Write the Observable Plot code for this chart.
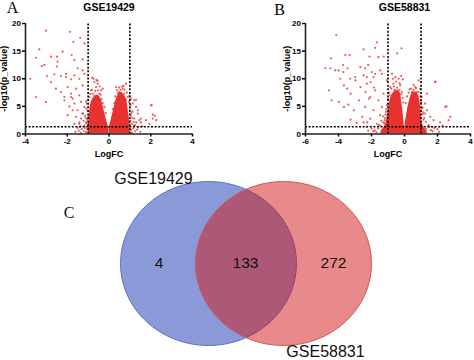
<!DOCTYPE html>
<html><head><meta charset="utf-8">
<script src="https://cdn.jsdelivr.net/npm/d3@7"></script>
<script src="https://cdn.jsdelivr.net/npm/@observablehq/plot@0.6"></script>
<style>
body{margin:0;background:#fff;}
#root{position:relative;width:474px;height:360px;overflow:hidden;background:#fff;}
.panel{position:absolute;top:0;}
</style></head><body><div id="root"></div>
<script>
// ---------- data ----------
const titleA = "GSE19429", titleB = "GSE58831";
const xTicksA = [-4, -2, 0, 2, 4];
const xTicksB = [-6, -4, -2, 0, 2, 4];
const yTicks = [0, 5, 10, 15, 20];
const logfcCut = [-1, 1];
const pCut = [-Math.log10(0.05)];

// dense cores (y, outer/inner logFC bounds)
const coreA_left = {y:[0,1.2,2,3,4,5,5.8,6.5,7.0], x1:[-0.95,-1.0,-0.98,-0.95,-0.93,-0.9,-0.85,-0.75,-0.6], x2:[0,-0.02,-0.08,-0.15,-0.22,-0.28,-0.33,-0.4,-0.5]};
const coreA_right = {y:[0,1.2,2,3,4,5,6,6.8,7.5], x1:[0,0.02,0.07,0.13,0.2,0.26,0.32,0.4,0.5], x2:[1.0,1.02,1.0,0.97,0.93,0.9,0.86,0.78,0.62]};
const coreB_left = {y:[0,0.6,1.3,2,3,4,5,6,7,7.8], x1:[-1.45,-1.4,-1.2,-1.12,-1.06,-1.0,-0.95,-0.88,-0.78,-0.6], x2:[0,0,-0.01,-0.03,-0.06,-0.09,-0.13,-0.18,-0.22,-0.3]};
const coreB_right = {y:[0,0.6,1.3,2,3,4,5,6,7,7.6], x1:[0,0,0.02,0.05,0.1,0.16,0.22,0.3,0.4,0.5], x2:[1.4,1.35,1.15,1.08,1.03,1.0,0.97,0.93,0.86,0.72]};

// scattered genes [logFC, -log10 p]
const pointsA = [[-3.02,18.7],[-1.86,18.5],[-1.71,16.7],[-1.38,17.4],[-1.18,16.4],[-3.34,15.3],[-3.5,13.8],[-3.1,12.5],[-3.22,12.3],[-2.78,14.0],[-2.49,14.0],[-2.22,14.9],[-2.46,13.1],[-2.49,12.2],[-1.79,14.3],[-1.66,13.4],[-1.5,11.9],[-1.26,11.5],[-1.18,10.9],[-1.26,13.5],[-1.66,10.6],[-2.06,10.3],[-2.3,10.5],[-2.62,10.8],[-2.97,10.5],[-3.77,10.0],[-1.42,10.0],[-1.82,9.9],
[-3.5,6.7],[-3.02,5.8],[-2.78,9.4],[-2.54,8.2],[-2.3,7.6],[-1.98,8.5],[-1.82,6.7],[-1.58,8.2],[-1.42,7.0],[-1.26,8.8],[-1.66,5.5],[-1.34,5.8],
[-2.14,6.7],[-1.9,5.0],[-1.74,4.3],[-1.98,3.4],[-1.58,3.1],[-1.42,2.1],[-1.66,1.85],[-1.26,3.7],[-1.18,1.5],
[1.21,6.1],[1.38,4.3],[1.53,2.8],[1.77,2.5],[1.93,1.85],[2.05,5.2],[2.1,3.5],[2.2,3.3],[1.3,2.1],[1.2,1.5],[1.3,6.2],
[-0.75,10.0],[-0.7,9.4],[-0.54,9.1],[-0.62,8.5],[-0.86,7.9],[-0.38,7.9],[-0.78,7.3],[-0.46,7.3],[-0.94,6.7],[-1.06,5.5],[-1.18,4.9],[-1.26,3.7],[-1.34,2.8],[-1.1,2.1],[-1.42,1.85],[-1.82,7.3],[-1.74,6.4],[-1.5,4.3],[-2.06,10.9],[-2.14,6.1],
[0.66,8.2],[0.49,7.6],[0.73,7.3],[0.9,6.7],[1.06,6.4],[1.14,5.5],[1.3,4.9],[1.38,3.7],[1.21,2.8],[1.53,2.1],[1.1,1.85],[2.01,5.2],[2.1,2.8],[2.26,2.5],[0.34,8.5],[0.82,9.1],
[-1.05,0.8],[-1.15,1.1],[-1.2,0.5],[-1.3,0.9],[-1.1,0.3],[-1.45,0.6],[-1.0,1.6],[-1.05,2.6],[-0.98,3.2],[-1.02,4.2],[1.05,0.7],[1.15,1.0],[1.25,0.5],[1.1,0.2],[1.35,0.8],[1.02,2.4],[1.05,3.3],[1.0,4.6],[0.95,5.8],[1.12,4.1],
[-0.6,9.8],[-0.45,8.6],[-0.3,8.2],[-0.7,6.9],[-0.55,6.5],[0.55,8.0],[0.6,7.0],[0.42,7.4],[0.7,8.7],[0.8,6.3],[-0.8,10.2],[-0.55,9.6],
[-1.08,1.9],[-1.12,2.9],[-1.15,3.3],[-1.08,4.6],[-1.1,5.9],[-1.0,6.2],[-0.9,7.2],[-0.82,8.0],[-0.66,7.8],[-0.52,7.9],[-0.4,7.1],[-0.35,6.3],[-0.3,5.6],[-0.22,4.9],[-0.15,3.8],[0.18,4.5],[0.25,5.6],[0.3,6.8],[0.38,7.9],[0.48,8.4],[0.62,8.6],[0.74,8.0],[0.86,7.5],[0.98,6.9],[1.03,5.2],[1.08,3.8],[1.12,2.9],[1.18,2.2],[1.25,1.6],[1.4,1.2],[-1.35,1.4],[-1.22,2.4],[-1.5,1.1],[1.6,1.4],[1.45,2.5],[1.5,0.4],[-1.6,0.4],[-1.35,0.2]];

const pointsB = [[-4.14,17.9],[-1.67,16.6],[-1.78,15.6],[-2.48,15.3],[-4.46,13.7],[-3.59,14.3],[-3.33,14.3],[-2.12,14.0],[-1.58,13.9],[-4.8,11.9],[-4.5,11.9],[-4.2,11.5],[-4.0,11.5],[-3.73,12.5],[-3.45,11.9],[-3.7,11.2],[-3.9,10.0],[-2.68,12.1],[-2.38,11.9],[-2.2,12.5],[-1.98,11.2],[-1.78,10.9],[-1.47,11.5],[-1.37,10.9],[-2.28,10.3],[-2.99,10.3],[-3.29,10.0],
[-4.58,7.9],[-4.42,6.1],[-3.67,8.8],[-3.47,8.2],[-3.27,7.3],[-2.97,9.7],[-2.67,8.5],[-2.36,7.6],[-2.06,9.4],[-1.85,8.4],[-2.16,6.4],[-2.76,6.1],
[-0.44,14.6],[-0.18,15.5],[-1.25,14.0],[1.88,9.5],[2.55,5.0],
[-2.48,10.6],[-2.28,9.1],[-1.88,10.3],[-1.78,7.9],[-2.08,6.7],[-1.58,6.1],[-2.38,4.9],[-1.88,4.3],[-1.47,3.4],[-2.08,2.8],[-1.67,1.85],[-1.27,2.1],[-2.48,2.1],[-1.37,4.9],[-1.27,7.3],[-1.07,9.7],
[-0.76,10.9],[-0.56,10.3],[-0.36,10.0],[-0.67,9.1],[-0.26,8.8],[-0.87,8.5],[-0.46,7.9],[-0.16,7.6],[-0.91,7.0],
[0.85,9.7],[0.65,8.5],[0.95,8.2],[0.45,7.6],[1.05,6.7],[1.25,5.5],[1.36,4.3],[1.56,3.1],[1.76,2.5],[2.16,2.1],[1.86,9.4],[2.47,4.9],[2.67,2.5],[2.77,3.1],[1.36,7.3],
[-3.98,5.8],[-3.67,4.9],[-3.07,4.3],[-2.56,3.1],[-2.26,2.1],[-3.27,2.6],[-2.9,2.0],[-3.4,5.3],
[-1.3,0.8],[-1.6,1.0],[-1.8,0.6],[-1.45,1.5],[-2.0,1.0],[-1.2,2.5],[-1.15,3.5],[-1.1,4.5],[-1.0,5.5],[1.3,0.9],[1.6,0.7],[1.8,1.1],[1.45,1.6],[2.0,0.9],[1.15,2.6],[1.1,3.6],[1.05,4.6],[1.0,5.6],[2.3,1.5],[-2.3,1.3],
[-0.6,8.0],[-0.3,9.2],[-0.1,9.9],[-0.5,9.5],[0.55,8.9],[0.75,7.6],[0.3,8.1],[-0.2,10.5],[-0.7,10.0],
[-1.22,1.9],[-1.18,2.9],[-1.12,4.0],[-1.08,5.2],[-1.0,6.3],[-0.92,7.5],[-0.8,8.2],[-0.65,8.6],[-0.45,8.4],[-0.3,8.0],[-0.2,7.2],[-0.12,6.5],[-0.08,5.7],[0.08,5.6],[0.15,6.8],[0.25,7.5],[0.4,8.2],[0.55,8.0],[0.7,8.3],[0.85,7.6],[0.95,6.8],[1.02,5.8],[1.1,4.8],[1.14,3.9],[1.2,2.9],[1.3,2.2],[1.5,1.3],[1.7,0.5],[-1.7,0.3],[-1.55,1.6],[-1.4,2.4],[-1.9,0.5],[2.1,0.4],[-2.2,0.6],[1.25,3.7],[-1.3,3.2]];

// Venn
const vennSets = ["GSE19429", "GSE58831"];
const vennCounts = [4, 133, 272]; // only first, both, only second

// ---------- helpers ----------
const red = "#e8322f";
function core(c) { return c.y.map((y, i) => ({y, x1: c.x1[i], x2: c.x2[i]})); }

function volcano(o) {
  const xd = [o.xTicks[0], o.xTicks[o.xTicks.length - 1]];
  const dash = {stroke: "#000", strokeWidth: 1.6, strokeDasharray: "2,1.6"};
  return Plot.plot({
    width: 237, height: 165,
    marginLeft: o.marginLeft, marginRight: o.marginRight, marginTop: 23, marginBottom: 31.5,
    x: {domain: xd},
    y: {domain: [0, 20]},
    style: {fontFamily: "'Liberation Sans', Arial, sans-serif", fontSize: "8px", fontWeight: "bold", color: "#000", background: "transparent", overflow: "visible"},
    marks: [
      Plot.areaX(core(o.coreL), {y: "y", x1: "x1", x2: "x2", fill: red}),
      Plot.areaX(core(o.coreR), {y: "y", x1: "x1", x2: "x2", fill: red}),
      Plot.dot(o.points, {x: d => d[0], y: d => d[1], r: 1.1, fill: red, fillOpacity: 0.8}),
      Plot.ruleX(logfcCut, {y1: 0, y2: 20, ...dash}),
      Plot.ruleY(pCut, {x1: xd[0], x2: xd[1], ...dash}),
      Plot.ruleX([xd[0]], {y1: 0, y2: 20, stroke: "#222", strokeWidth: 1.6}),
      Plot.ruleY([0], {x1: xd[0], x2: xd[1], stroke: "#222", strokeWidth: 1.6}),
      Plot.axisX({ticks: o.xTicks, tickSize: 3, tickPadding: 1.5, strokeWidth: 1.5, tickFormat: d => String(d), label: null}),
      Plot.axisY({ticks: yTicks, tickSize: 3, tickPadding: 1.5, strokeWidth: 1.5, tickFormat: d => String(d), label: null}),
      Plot.text([{t: o.title, x: 0, y: 20}], {x: "x", y: "y", text: "t", dy: -16, fontSize: 10.5, fontWeight: "bold"}),
      Plot.text(["LogFC"], {frameAnchor: "bottom", textAnchor: "middle", lineAnchor: "middle", dy: 20, fontSize: 9, fontWeight: "bold"}),
      Plot.text(["-log10(p_value)"], {frameAnchor: "left", textAnchor: "middle", lineAnchor: "middle", dx: o.labelDx, rotate: -90, fontSize: 9, fontWeight: "bold"}),
      Plot.text([o.letter], {frameAnchor: "top-left", textAnchor: "middle", lineAnchor: "middle", dx: o.letterDx, dy: o.letterDy, fontFamily: "'Liberation Serif', 'Times New Roman', serif", fontSize: 16, fontWeight: "normal"})
    ]
  });
}

function place(el, left, top) {
  const d = document.createElement("div");
  d.className = "panel";
  d.style.left = left + "px";
  d.style.top = top + "px";
  d.appendChild(el);
  document.getElementById("root").appendChild(d);
}

place(volcano({title: titleA, letter: "A", xTicks: xTicksA, points: pointsA, coreL: coreA_left, coreR: coreA_right,
  marginLeft: 25, marginRight: 45, labelDx: -21, letterDx: -13, letterDy: -15.5}), 0, 0);
place(volcano({title: titleB, letter: "B", xTicks: xTicksB, points: pointsB, coreL: coreB_left, coreR: coreB_right,
  marginLeft: 68, marginRight: 4, labelDx: -18, letterDx: -26, letterDy: -14}), 237, 0);

// ---------- Venn ----------
const ellipse = {
  draw(ctx, size) {
    const ry = Math.sqrt(size / Math.PI), rx = ry * 88 / 82, k = 0.5523;
    ctx.moveTo(rx, 0);
    ctx.bezierCurveTo(rx, ry * k, rx * k, ry, 0, ry);
    ctx.bezierCurveTo(-rx * k, ry, -rx, ry * k, -rx, 0);
    ctx.bezierCurveTo(-rx, -ry * k, -rx * k, -ry, 0, -ry);
    ctx.bezierCurveTo(rx * k, -ry, rx, -ry * k, rx, 0);
    ctx.closePath();
  }
};
const vCx = [208, 283], vCy = 103, vR = 82;
const setFill = ["#8a9ad8", "rgb(209,21,21)"], setOpacity = [1, 0.5], setStroke = ["#5d71c6", "#d0585c"];
const labelPos = [[153, 18], [325, 191]];
const countPos = [[158.5, 103], [245, 103], [333, 103]];
const vennMarks = vennSets.map((s, i) =>
  Plot.dot([s], {x: () => vCx[i], y: () => vCy, r: vR, symbol: ellipse, fill: setFill[i], fillOpacity: setOpacity[i], stroke: setStroke[i], strokeWidth: 1}));
const venn = Plot.plot({
  width: 474, height: 200, margin: 0,
  x: {domain: [0, 474], range: [0, 474], axis: null},
  y: {domain: [0, 200], range: [0, 200], axis: null},
  style: {fontFamily: "'Liberation Sans', Arial, sans-serif", background: "transparent", overflow: "visible", color: "#000"},
  marks: [
    ...vennMarks,
    Plot.text(vennCounts, {x: (d, i) => countPos[i][0], y: (d, i) => countPos[i][1], text: d => String(d), fontSize: 15.5, fill: "#111"}),
    Plot.text(vennSets, {x: (d, i) => labelPos[i][0], y: (d, i) => labelPos[i][1], fontSize: 16, fill: "#111"}),
    Plot.text(["C"], {x: () => 68.5, y: () => 52, fontFamily: "'Liberation Serif', 'Times New Roman', serif", fontSize: 16, fill: "#111"})
  ]
});
place(venn, 0, 160);
</script></body></html>
